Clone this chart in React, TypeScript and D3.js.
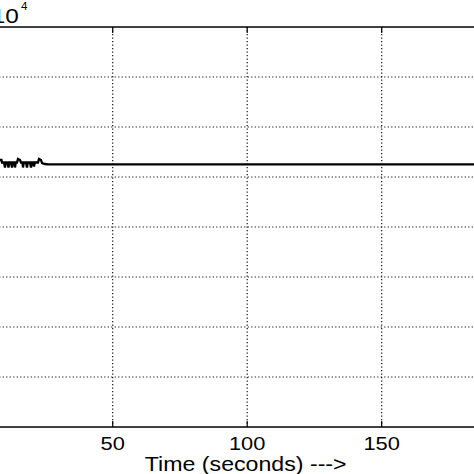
import React from "react";
import * as d3 from "d3";

// Data (values in raw units; axis label shows x10^4)
const xTicks = [0, 50, 100, 150, 200];
const yTicks = [0, 5000, 10000, 15000, 20000, 25000, 30000, 35000, 40000];
const timeSec = [
  0, 4, 8.1, 8.66, 8.85, 9.59, 9.96, 10.25, 10.89, 11.26, 11.55, 12.19, 12.57, 12.85,
  13.49, 13.68, 13.97, 14.42, 14.8, 15.54, 15.91, 16.47, 16.65, 16.94, 17.77, 18.14,
  18.43, 19.26, 19.63, 19.91, 20.37, 20.74, 21.03, 22.23, 22.6, 23.35, 23.72, 24.83,
  25.95, 200,
];
const signal = [
  26400, 26700, 26700, 26700, 26450, 26450, 25950, 26450, 26450, 25950, 26450, 26450,
  25950, 26450, 26450, 25950, 26450, 26450, 26800, 26700, 26450, 26450, 25950, 26450,
  26450, 25950, 26450, 26450, 25950, 26450, 26450, 26050, 26450, 26450, 26800, 26700,
  26400, 26300, 26270, 26270,
];

const W = 474;
const H = 474;

export default function App() {
  const x = d3.scaleLinear().domain([0, 200]).range([-21.8, 516.2]);
  const y = d3.scaleLinear().domain([0, 40000]).range([427, 27]);
  const pts = timeSec.map((t, i) => [t, signal[i]] as [number, number]);
  const line = d3
    .line<[number, number]>()
    .x((d) => x(d[0]))
    .y((d) => y(d[1]));
  const font = "'Liberation Sans', Arial, Helvetica, sans-serif";
  const visible = (v: number) => x(v) > 15 && x(v) < W - 15;
  return (
    <svg
      width={W}
      height={H}
      style={{ position: "absolute", left: 0, top: 0, background: "#fff", overflow: "hidden" }}
    >
      <rect x={0} y={0} width={W} height={H} fill="#fff" />
      {/* horizontal grid */}
      {yTicks.slice(1, -1).map((v) => (
        <line
          key={"gy" + v}
          x1={x(0)}
          x2={x(200)}
          y1={y(v)}
          y2={y(v)}
          stroke="#111"
          strokeWidth={1.2}
          strokeDasharray="1.2,2.3"
        />
      ))}
      {/* vertical grid */}
      {xTicks.slice(1, -1).map((v) => (
        <line
          key={"gx" + v}
          x1={x(v)}
          x2={x(v)}
          y1={y(40000)}
          y2={y(0)}
          stroke="#111"
          strokeWidth={1.2}
          strokeDasharray="1.2,2.3"
        />
      ))}
      {/* axes box */}
      <line x1={x(0)} x2={x(200)} y1={y(40000)} y2={y(40000)} stroke="#000" strokeWidth={1.6} />
      <line x1={x(0)} x2={x(200)} y1={y(0)} y2={y(0)} stroke="#000" strokeWidth={1.6} />
      {xTicks.map((v) => (
        <g key={"t" + v}>
          <line x1={x(v)} x2={x(v)} y1={y(0)} y2={y(0) - 6} stroke="#000" strokeWidth={1.2} />
          <line x1={x(v)} x2={x(v)} y1={y(40000)} y2={y(40000) + 6} stroke="#000" strokeWidth={1.2} />
          {visible(v) && (
            <g transform={`translate(${x(v)},449.5) scale(1.15,1)`}>
              <text textAnchor="middle" fontFamily={font} fontSize={19} fill="#000">
                {v}
              </text>
            </g>
          )}
        </g>
      ))}
      {/* data line */}
      <path d={line(pts) || ""} fill="none" stroke="#000" strokeWidth={2.3} strokeLinejoin="miter" />
      {/* exponent label */}
      <g transform="translate(18.8,23) scale(1.25,1)">
        <text textAnchor="end" fontFamily={font} fontSize={19.5} fill="#000">
          ×10
        </text>
      </g>
      <text x={21} y={9.5} fontFamily={font} fontSize={11.5} fill="#000">
        4
      </text>
      {/* x label */}
      <g transform={`translate(${x(100) - 1.5},470.5) scale(1.13,1)`}>
        <text textAnchor="middle" fontFamily={font} fontSize={20.5} fill="#000">
          Time (seconds) ---&gt;
        </text>
      </g>
    </svg>
  );
}
